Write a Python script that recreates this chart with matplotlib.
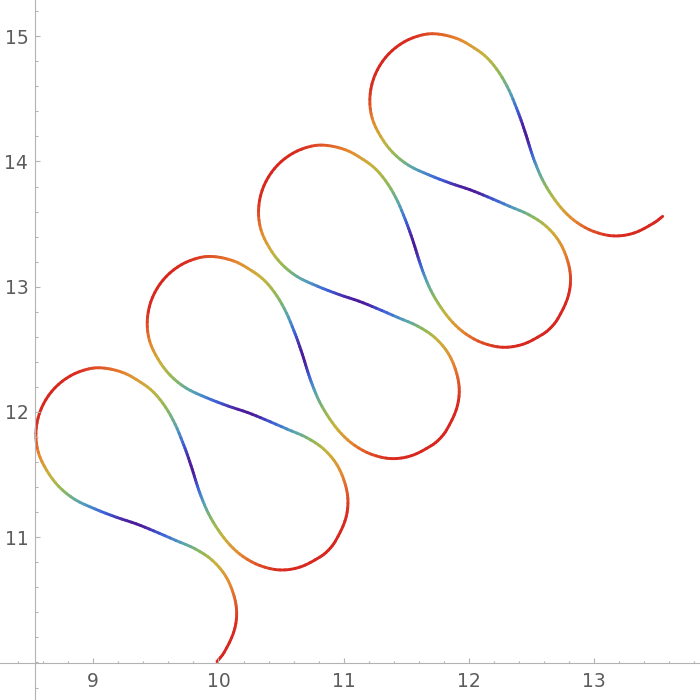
import numpy as np
import matplotlib
matplotlib.use("Agg")
import matplotlib.pyplot as plt
from matplotlib.path import Path
from matplotlib.patches import PathPatch
from matplotlib.colors import LinearSegmentedColormap
from matplotlib.ticker import FixedLocator, MultipleLocator

# One period of the traced curve (lower-right lobe, then upper-left lobe)
period_x = [10.877, 10.933, 11.010, 11.034, 11.014, 10.947, 10.839, 10.703, 10.547, 10.371,
            10.232, 10.076, 9.900, 9.740, 9.613, 9.517, 9.450, 9.431, 9.459, 9.533,
            9.641, 9.776, 9.932, 10.120, 10.268, 10.371, 10.467, 10.543, 10.603, 10.639,
            10.679, 10.713, 10.749, 10.808, 10.887, 10.981, 11.087, 11.220, 11.380, 11.540,
            11.699]
period_y = [10.896, 10.968, 11.130, 11.273, 11.417, 11.577, 11.705, 11.796, 11.864, 11.940,
            11.996, 12.048, 12.116, 12.192, 12.295, 12.423, 12.567, 12.719, 12.878, 13.022,
            13.134, 13.210, 13.242, 13.206, 13.126, 13.046, 12.926, 12.790, 12.647, 12.551,
            12.432, 12.322, 12.218, 12.080, 11.947, 11.827, 11.734, 11.663, 11.628, 11.651,
            11.731]
# colour value along the curve: 0 = purple (inflection) ... 1 = red (lobe tip)
period_c = [1.00, 1.00, 0.97, 0.90, 0.82, 0.72, 0.60, 0.45, 0.30, 0.15,
            0.02, 0.12, 0.25, 0.38, 0.52, 0.65, 0.77, 0.88, 0.96, 1.00,
            0.98, 0.93, 0.86, 0.78, 0.68, 0.60, 0.50, 0.38, 0.22, 0.12,
            0.02, 0.14, 0.27, 0.42, 0.55, 0.68, 0.78, 0.87, 0.93, 0.98,
            1.00]
# diagonal offsets of the repeated periods (same in x and y)
period_offsets = [-0.889, 0.0, 0.889, 1.778]
end_x, end_y, end_c = 13.548, 13.562, 1.00

x_ticks = [9, 10, 11, 12, 13]
y_ticks = [11, 12, 13, 14, 15]

rainbow = LinearSegmentedColormap.from_list(
    "mrainbow",
    [(0.00, "#4a1896"), (0.08, "#4b23a4"), (0.20, "#3c62d9"), (0.34, "#54a3b8"),
     (0.48, "#8ab95c"), (0.62, "#c7b33c"), (0.76, "#e6882f"), (0.93, "#da2d20"),
     (1.00, "#d8271e")])

X, Y, C = [], [], []
for off in period_offsets:
    X += [v + off for v in period_x]
    Y += [v + off for v in period_y]
    C += list(period_c)
X.append(end_x); Y.append(end_y); C.append(end_c)
P = np.column_stack([X, Y])
C = np.array(C)
N = len(P)

fig = plt.figure(figsize=(7, 7), dpi=100)
ax = fig.add_axes([0, 0, 1, 1])
ax.set_xlim(8.2548, 13.846)
ax.set_ylim(9.7006, 15.2894)


def split_bezier(b, t):
    p0, p1, p2, p3 = b
    a = p0 + (p1 - p0) * t
    bb = p1 + (p2 - p1) * t
    c = p2 + (p3 - p2) * t
    d = a + (bb - a) * t
    e = bb + (c - bb) * t
    f = d + (e - d) * t
    return [p0, a, d, f], [f, e, c, p3]


sub = 4
codes = [Path.MOVETO, Path.CURVE4, Path.CURVE4, Path.CURVE4]
for i in range(N - 1):
    p1, p2 = P[i], P[i + 1]
    p0 = P[i - 1] if i > 0 else p1
    p3 = P[i + 2] if i + 2 < N else p2
    d = np.linalg.norm(p2 - p1)
    t1 = p2 - p0
    t2 = p3 - p1
    t1 = t1 / np.linalg.norm(t1)
    t2 = t2 / np.linalg.norm(t2)
    bez = [p1, p1 + t1 * d / 3, p2 - t2 * d / 3, p2]
    rest = bez
    for k in range(sub):
        if k < sub - 1:
            piece, rest = split_bezier(rest, 1.0 / (sub - k))
        else:
            piece = rest
        cval = C[i] + (C[i + 1] - C[i]) * (k + 0.5) / sub
        patch = PathPatch(Path(np.array(piece), codes), fill=False,
                          edgecolor=rainbow(cval), linewidth=2.1,
                          capstyle="round", joinstyle="round")
        ax.add_patch(patch)

axis_col = "#b3b3b3"
for s in ["top", "right"]:
    ax.spines[s].set_visible(False)
ax.spines["left"].set_position(("data", 8.534))
ax.spines["bottom"].set_position(("data", 10.0))
for s in ["left", "bottom"]:
    ax.spines[s].set_color(axis_col)
    ax.spines[s].set_linewidth(0.8)

ax.xaxis.set_major_locator(FixedLocator(x_ticks))
ax.yaxis.set_major_locator(FixedLocator(y_ticks))
ax.xaxis.set_minor_locator(MultipleLocator(0.2))
ax.yaxis.set_minor_locator(MultipleLocator(0.2))
ax.tick_params(which="both", direction="in", color=axis_col, width=0.8,
               labelcolor="#5c5c5c", labelsize=13.5)
ax.tick_params(which="major", length=3.3)
ax.tick_params(which="minor", length=1.8)
ax.tick_params(axis="x", which="major", pad=6.5)
ax.tick_params(axis="y", which="major", pad=4.8)

fig.savefig("out.png", dpi=100)
